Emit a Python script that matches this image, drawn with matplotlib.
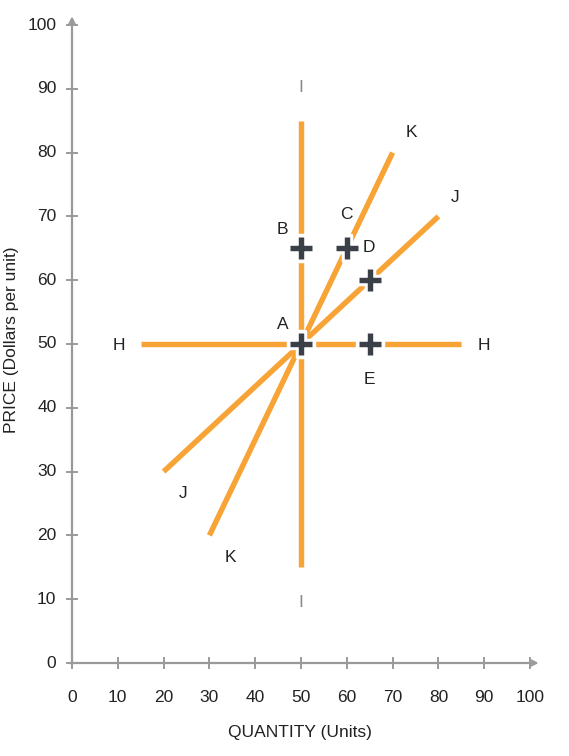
import numpy as np
import matplotlib
matplotlib.use('Agg')
import matplotlib.pyplot as plt

plt.rcParams['font.family'] = ['Liberation Sans Narrow', 'Liberation Sans', 'DejaVu Sans']

# 曲线端点
line_h_x = [15, 85]
line_h_y = [50, 50]
line_i_x = [50, 50]
line_i_y = [15, 85]
line_j_x = [20, 80]
line_j_y = [30, 70]
line_k_x = [30, 70]
line_k_y = [20, 80]

# 各点
point_names = ['A', 'B', 'C', 'D', 'E']
point_x = [50, 50, 60, 65, 65]
point_y = [50, 65, 65, 60, 50]
point_label_x = [46, 46, 60, 64.8, 65]
point_label_y = [53, 68, 70.3, 65.2, 44.4]

# 曲线标注
curve_names = ['H', 'H', 'I', 'I', 'J', 'J', 'K', 'K']
curve_label_x = [10.2, 90, 50, 50, 83.7, 24.2, 74.2, 34.5]
curve_label_y = [49.8, 49.8, 90.2, 9.5, 73, 26.6, 83.2, 16.6]

ticks = list(range(0, 101, 10))

orange = '#f7a336'
dark = '#3b4048'
axis_gray = '#9a9a9a'

fig = plt.figure(figsize=(5.69, 7.56), dpi=100)
ax = fig.add_axes([72 / 569, 1 - 663 / 756, 458 / 569, 638 / 756])
ax.set_xlim(0, 100)
ax.set_ylim(0, 100)
for s in ax.spines.values():
    s.set_visible(False)
ax.set_xticks([])
ax.set_yticks([])

# 坐标轴（带箭头）
ax.annotate('', xy=(102.5, 0), xytext=(-1, 0), annotation_clip=False,
            arrowprops=dict(arrowstyle='->', color=axis_gray, lw=1.6))
ax.annotate('', xy=(0, 101.8), xytext=(0, -0.8), annotation_clip=False,
            arrowprops=dict(arrowstyle='->', color=axis_gray, lw=1.6))
for t in ticks:
    ax.plot([t, t], [-0.8, 0.8], color=axis_gray, lw=1.4, clip_on=False)
    ax.plot([-1.1, 1.1], [t, t], color=axis_gray, lw=1.4, clip_on=False)
    ax.text(t, -5.4, str(t), ha='center', va='center', fontsize=12.5, color='#222222')
    ax.text(-3.4, t, str(t), ha='right', va='center', fontsize=12.5, color='#222222')

for lx, ly in [(line_h_x, line_h_y), (line_i_x, line_i_y), (line_j_x, line_j_y), (line_k_x, line_k_y)]:
    ax.plot(lx, ly, color=orange, lw=3.9, solid_capstyle='butt')

# 十字标记，白色描边
ax.scatter(point_x, point_y, marker='P', s=340, color='white', edgecolors='white', linewidths=2.5, zorder=4)
ax.scatter(point_x, point_y, marker='+', s=270, color=dark, linewidths=3.9, zorder=5)

for n, x, y in zip(point_names, point_label_x, point_label_y):
    ax.text(x, y, n, ha='center', va='center', fontsize=12.5, color='#222222')
for n, x, y in zip(curve_names, curve_label_x, curve_label_y):
    c = '#888888' if n == 'I' else '#222222'
    ax.text(x, y, n, ha='center', va='center', fontsize=12.5, color=c)

fig.text(300 / 569, 1 - 733 / 756, 'QUANTITY (Units)', ha='center', va='center', fontsize=12.5, color='#222222')
fig.text(12 / 569, 1 - 340 / 756, 'PRICE (Dollars per unit)', ha='center', va='center',
         rotation=90, fontsize=12.5, color='#222222')

fig.savefig('out.png', dpi=100)
